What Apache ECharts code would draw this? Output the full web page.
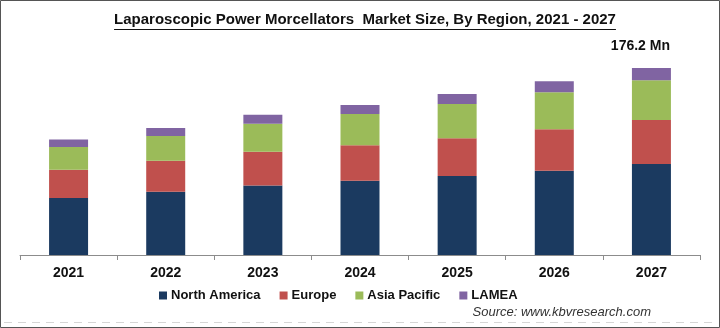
<!DOCTYPE html>
<html>
<head>
<meta charset="utf-8">
<script src="https://cdn.jsdelivr.net/npm/echarts@6/dist/echarts.min.js"></script>
<style>
html,body{margin:0;padding:0;background:#fff;}
#chart{width:720px;height:328px;}
</style>
</head>
<body>
<div id="chart"></div>
<script>
const categories = ['2021','2022','2023','2024','2025','2026','2027'];
const northAmerica = [53.7, 59.6, 65.5, 70.0, 74.4, 79.4, 85.7];
const europe       = [26.7, 29.2, 31.7, 33.4, 35.5, 39.0, 41.5];
const asiaPacific  = [21.4, 23.3, 26.4, 29.5, 32.3, 34.9, 37.4];
const lamea        = [ 6.9,  7.5,  8.5,  8.5,  9.4, 10.4, 11.6];
const totalLabel = '176.2 Mn';
const titleText = 'Laparoscopic Power Morcellators  Market Size, By Region, 2021 - 2027';
const sourceText = 'Source: www.kbvresearch.com';

const chart = echarts.init(document.getElementById('chart'));

const fam = '"Liberation Sans", sans-serif';
const titleFont = 'bold 15px ' + fam;
const ctx = document.createElement('canvas').getContext('2d');
ctx.font = titleFont;
const tw = ctx.measureText(titleText).width;
const tcx = 365;

function mk(name, data, color, extra) {
  return Object.assign({
    name: name, type: 'bar', stack: 'total', data: data, barWidth: 39,
    itemStyle: {color: color}, emphasis: {disabled: true}
  }, extra || {});
}

chart.setOption({
  animation: false,
  graphic: [
    {type: 'line', shape: {x1: 4, y1: 322.5, x2: 716, y2: 322.5}, style: {stroke: '#d6d6d6', lineWidth: 1, lineDash: [8, 6]}},
    {type: 'rect', shape: {x: 0.5, y: 0.5, width: 719, height: 327}, style: {fill: 'none', stroke: '#555', lineWidth: 1}},
    {type: 'text', x: tcx, y: 20, style: {text: titleText, font: titleFont, fill: '#111', align: 'center', verticalAlign: 'middle'}},
    {type: 'line', shape: {x1: tcx - tw/2, y1: 29.5, x2: tcx + tw/2, y2: 29.5}, style: {stroke: '#111', lineWidth: 1}},
    {type: 'text', x: 651, y: 312, style: {text: sourceText, font: 'italic 13px ' + fam, fill: '#333', align: 'right', verticalAlign: 'middle'}}
  ],
  grid: {left: 20, right: 20, top: 42.7, bottom: 73, containLabel: false},
  xAxis: {
    type: 'category', data: categories,
    axisLine: {lineStyle: {color: '#8c8c8c', width: 1}},
    axisTick: {show: true, length: 5, lineStyle: {color: '#8c8c8c'}},
    axisLabel: {color: '#111', fontWeight: 'bold', fontSize: 14, margin: 11, fontFamily: fam}
  },
  yAxis: {type: 'value', min: 0, max: 200, show: false, splitLine: {show: false}},
  legend: {
    top: 284, left: 154, itemWidth: 8, itemHeight: 8, itemGap: 19,
    icon: 'rect',
    textStyle: {color: '#111', fontWeight: 'bold', fontSize: 13, fontFamily: fam, padding: [0, 0, 0, -1]},
    data: ['North America', 'Europe', 'Asia Pacific', 'LAMEA']
  },
  series: [
    mk('North America', northAmerica, '#1b3a60'),
    mk('Europe', europe, '#c0504d'),
    mk('Asia Pacific', asiaPacific, '#9bbb59'),
    mk('LAMEA', lamea.map((v, i) => i === lamea.length - 1 ? {
      value: v,
      label: {show: true, position: 'top', distance: 15, offset: [-11, 0], formatter: totalLabel, fontSize: 14,
              fontWeight: 'bold', color: '#111', fontFamily: fam}
    } : v), '#8064a2')
  ]
});
</script>
</body>
</html>
